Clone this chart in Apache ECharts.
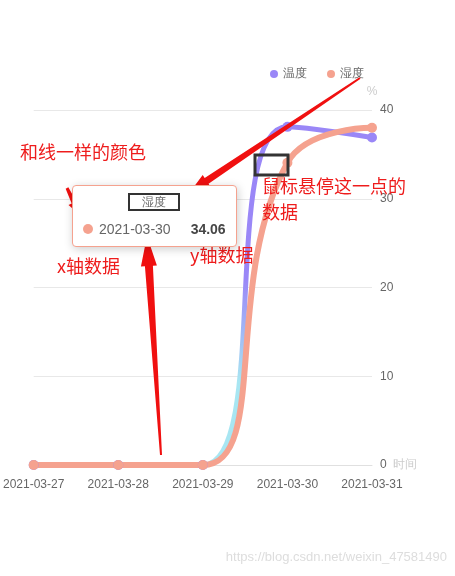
<!DOCTYPE html>
<html><head><meta charset="utf-8">
<script src="https://cdn.jsdelivr.net/npm/echarts@6/dist/echarts.min.js"></script>
<style>html,body{margin:0;padding:0;background:#fff}#c{width:455px;height:576px}</style>
</head><body><div id="c"></div>
<script>
var categories = ['2021-03-27','2021-03-28','2021-03-29','2021-03-30','2021-03-31'];
var tempValues = [0, 0, 0, 38.1, 36.9];
var humValues = [0, 0, 0, 34.06, 38.0];
var yTicks = [0, 10, 20, 30, 40];

function arrow(x1,y1,x2,y2,w0,w1,hw,hl){
  var dx=x2-x1, dy=y2-y1, L=Math.sqrt(dx*dx+dy*dy), ux=dx/L, uy=dy/L, px=-uy, py=ux;
  var bx=x2-ux*hl, by=y2-uy*hl;
  return {type:'polygon',z:100,shape:{points:[
    [x1+px*w0/2,y1+py*w0/2],[bx+px*w1/2,by+py*w1/2],[bx+px*hw/2,by+py*hw/2],[x2,y2],
    [bx-px*hw/2,by-py*hw/2],[bx-px*w1/2,by-py*w1/2],[x1-px*w0/2,y1-py*w0/2]]},
    style:{fill:'#f01010'}};
}
var red='#ee1c1c';
var chart = echarts.init(document.getElementById('c'));
chart.setOption({
  animation:false,
  grid:{left:0,right:83,top:110,bottom:111},
  legend:{top:63,right:86,itemWidth:8,itemHeight:8,icon:'circle',itemGap:20,
    textStyle:{color:'#666',fontSize:12},data:['温度','湿度']},
  tooltip:{trigger:'item',alwaysShowContent:true,position:[72,185],
    backgroundColor:'#fff',borderColor:'#f5a28f',borderWidth:1,padding:[6,10],
    formatter:function(p){
      return '<div style="text-align:center;font-size:12px;color:#666;"><span style="border:2px solid #333;padding:0 12px;">湿度</span></div>'+
      '<div style="margin-top:6px;font-size:14px;color:#666;"><span style="display:inline-block;width:10px;height:10px;border-radius:5px;background:#f5a28f;margin-right:6px"></span>'+p.name+'<b style="margin-left:20px;color:#464646">'+p.value+'</b></div>';}},
  xAxis:{type:'category',data:categories,boundaryGap:false,min:0.423,name:'时间',nameGap:0,
    nameTextStyle:{color:'#ccc',fontSize:12},
    axisLine:{lineStyle:{color:'#e0e0e0'}},axisTick:{show:false},
    axisLabel:{color:'#666',fontSize:12,margin:14}},
  yAxis:{type:'value',position:'right',min:yTicks[0],max:yTicks[yTicks.length-1],interval:10,
    name:'%',nameTextStyle:{color:'#ccc',fontSize:12},nameGap:12,
    axisLine:{show:false},axisTick:{show:false},
    axisLabel:{color:'#666',fontSize:12,margin:8},
    splitLine:{lineStyle:{color:'#e8e8e8'}}},
  series:[
    {name:'温度',type:'line',smooth:true,data:tempValues,symbol:'circle',symbolSize:10,
     itemStyle:{color:'#9a87f7'},
     lineStyle:{width:5,color:{type:'linear',x:0,y:0,x2:0,y2:1,colorStops:[{offset:0,color:'#9a87f7'},{offset:0.45,color:'#9a87f7'},{offset:0.75,color:'#a8e6f2'},{offset:1,color:'#a8e6f2'}]}}},
    {name:'湿度',type:'line',smooth:true,data:humValues,symbol:'circle',symbolSize:10,
     itemStyle:{color:'#f5a28f'},lineStyle:{width:6,color:'#f5a28f'}}
  ],
  graphic:[
    {type:'text',z:100,left:20,top:143,style:{text:'和线一样的颜色',fill:red,fontSize:18,fontFamily:'Noto Sans CJK SC'}},
    {type:'text',z:100,left:57,top:257,style:{text:'x轴数据',fill:red,fontSize:18,fontFamily:'Noto Sans CJK SC'}},
    {type:'text',z:100,left:190,top:246,style:{text:'y轴数据',fill:red,fontSize:18,fontFamily:'Noto Sans CJK SC'}},
    {type:'text',z:100,left:262,top:173,style:{text:'鼠标悬停这一点的\n数据',fill:red,fontSize:18,lineHeight:26,fontFamily:'Noto Sans CJK SC'}},
    {type:'rect',z:100,shape:{x:255,y:155,width:33,height:20},style:{fill:'none',stroke:'#333',lineWidth:3}},
    arrow(360,78,190,192,2,7,14,20),
    arrow(161,455,147,236,2,8,16,30),
    arrow(67,188,80,215,3,5,12,14),
    {type:'text',z:100,right:8,bottom:12,style:{text:'https://blog.csdn.net/weixin_47581490',fill:'#ddd',fontSize:13}}
  ]
});
chart.dispatchAction({type:'showTip',seriesIndex:1,dataIndex:3});
</script></body></html>
